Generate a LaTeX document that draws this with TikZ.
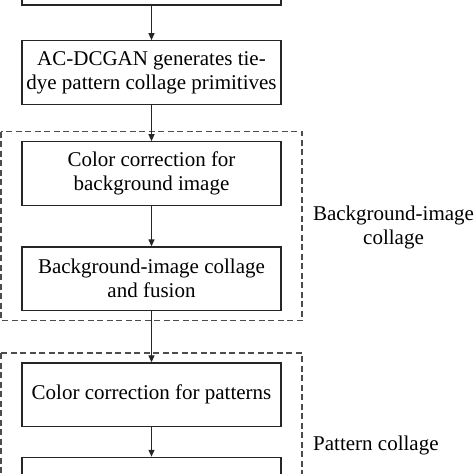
\documentclass[tikz,border=0pt]{standalone}
\usepackage{fontspec}
\setmainfont{Liberation Serif}
\usetikzlibrary{
    positioning,
    arrows.meta
}

\begin{document}
\begin{tikzpicture}[x=1pt, y=-1pt, >={Triangle[length=7pt, width=6pt]},
    stepbox/.style={draw=black!85, line width=1.2pt, minimum width=259pt, minimum height=63.5pt,
        align=center, inner xsep=2pt, font=\fontsize{21}{24}\selectfont},
    groupbox/.style={draw=black!70, line width=1.2pt, dash pattern=on 6pt off 3.5pt},
    grouplabel/.style={font=\fontsize{21}{24}\selectfont, align=center}]
            \useasboundingbox (0,0) rectangle (474,474);
            \clip (0,0) rectangle (474,474);

            % dashed groups
            \draw[groupbox] (1,131.7) rectangle (302,320.7);
            \draw[groupbox] (1,353) rectangle (302,530);

            \node[stepbox] (top) at (151.5,-26.8) {};
            \node[stepbox] (gen) at (151.5,72.5) {AC-DCGAN generates tie-\\dye pattern collage primitives};
            \node[stepbox] (bgcorr) at (151.5,173.5) {Color correction for\\background image};
            \node[stepbox] (bgfuse) at (151.5,278.7) {Background-image collage\\and fusion};
            \node[stepbox] (patcorr) at (151.5,394.7) {Color correction for patterns};
            \node[stepbox] (patnext) at (151.5,489.1) {};

            \node[grouplabel] (bglabel) at (393.5,227) {Background-image\\collage};
            \node[grouplabel, anchor=west, inner xsep=0pt] (patlabel) at (313,445) {Pattern collage};

            \draw[->, line width=1.2pt, black!85] (top) -- (gen);
            \draw[->, line width=1.2pt, black!85] (gen) -- (bgcorr);
            \draw[->, line width=1.2pt, black!85] (bgcorr) -- (bgfuse);
            \draw[->, line width=1.2pt, black!85] (bgfuse) -- (patcorr);
            \draw[->, line width=1.2pt, black!85] (patcorr) -- (patnext);
\end{tikzpicture}
\end{document}
